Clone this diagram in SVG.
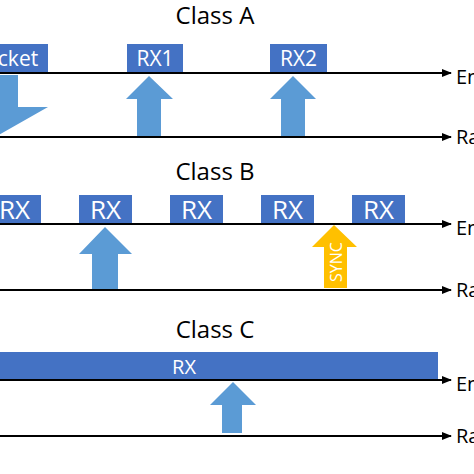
<svg xmlns="http://www.w3.org/2000/svg" width="474" height="474" viewBox="0 0 474 474">
<defs>
<marker id="ah" markerWidth="10" markerHeight="8" refX="9" refY="4" orient="auto" markerUnits="userSpaceOnUse">
<path d="M0,0 L10,4 L0,8 Z" fill="#000"/>
</marker>
<style>
.title{font-family:"Open Sans","Liberation Sans",sans-serif;font-size:24px;fill:#000;text-anchor:middle}
.lbl{font-family:"Open Sans","Liberation Sans",sans-serif;font-size:20px;fill:#000}
.box{fill:#4472C4}
.bt{font-family:"Open Sans","Liberation Sans",sans-serif;fill:#fff;text-anchor:middle}
.arr{fill:#5B9BD5}
.line{stroke:#000;stroke-width:2;fill:none}
</style>
</defs>
<rect width="474" height="474" fill="#fff"/>
<text class="title" x="215" y="24">Class A</text>
<text class="title" x="215" y="180">Class B</text>
<text class="title" x="215" y="338">Class C</text>

<g id="connectors">
<line class="line" x1="0" y1="73" x2="451" y2="73" marker-end="url(#ah)"/>
<line class="line" x1="0" y1="137" x2="451" y2="137" marker-end="url(#ah)"/>
<line class="line" x1="0" y1="224" x2="451" y2="224" marker-end="url(#ah)"/>
<line class="line" x1="0" y1="290" x2="451" y2="290" marker-end="url(#ah)"/>
<line class="line" x1="0" y1="380" x2="451" y2="380" marker-end="url(#ah)"/>
<line class="line" x1="0" y1="436" x2="451" y2="436" marker-end="url(#ah)"/>
</g>

<g id="labels">
<text class="lbl" x="456" y="84">En</text>
<text class="lbl" x="456" y="144">Ra</text>
<text class="lbl" x="456" y="235">En</text>
<text class="lbl" x="456" y="297">Ra</text>
<text class="lbl" x="456" y="391">En</text>
<text class="lbl" x="456" y="443">Ra</text>
</g>

<g id="packet">
<rect class="box" x="-10" y="44" width="58" height="28"/>
<text class="bt" x="18" y="66" font-size="21">cket</text>
<polygon class="arr" points="-28,75 18,75 18,107 48,107 -5,137 -58,107 -28,107"/>
</g>
<g id="rx1">
<rect class="box" x="127" y="44" width="56" height="28"/>
<text class="bt" x="155" y="66" font-size="21">RX1</text>
<polygon class="arr" points="149,76 173,99 161,99 161,136 137,136 137,99 126,99"/>
</g>
<g id="rx2">
<rect class="box" x="270" y="44" width="57" height="28"/>
<text class="bt" x="298.5" y="66" font-size="21">RX2</text>
<polygon class="arr" points="293,76 316,99 305,99 305,136 281,136 281,99 270,99"/>
</g>

<g id="classB">
<rect class="box" x="-12" y="195" width="53" height="28"/>
<text class="bt" x="14.5" y="219" font-size="26">RX</text>
<rect class="box" x="79" y="195" width="53" height="28"/>
<text class="bt" x="105.5" y="219" font-size="26">RX</text>
<rect class="box" x="170" y="195" width="53" height="28"/>
<text class="bt" x="196.5" y="219" font-size="26">RX</text>
<rect class="box" x="261" y="195" width="53" height="28"/>
<text class="bt" x="287.5" y="219" font-size="26">RX</text>
<rect class="box" x="352" y="195" width="53" height="28"/>
<text class="bt" x="378.5" y="219" font-size="26">RX</text>
<polygon class="arr" points="105,227 132,254 118,254 118,289 92,289 92,254 79,254"/>
</g>
<g id="sync">
<polygon fill="#FFC000" points="334,225 357,247 347,247 347,288 324,288 324,247 312,247"/>
<text class="bt" transform="translate(341.5,262) rotate(-90)" font-size="16" text-anchor="middle">SYNC</text>
</g>

<g id="classC">
<rect class="box" x="-2" y="352" width="440" height="27"/>
<text class="bt" x="184" y="374" font-size="20">RX</text>
<polygon class="arr" points="233,382 256,405 242,405 242,433 222,433 222,405 210,405"/>
</g>
</svg>
